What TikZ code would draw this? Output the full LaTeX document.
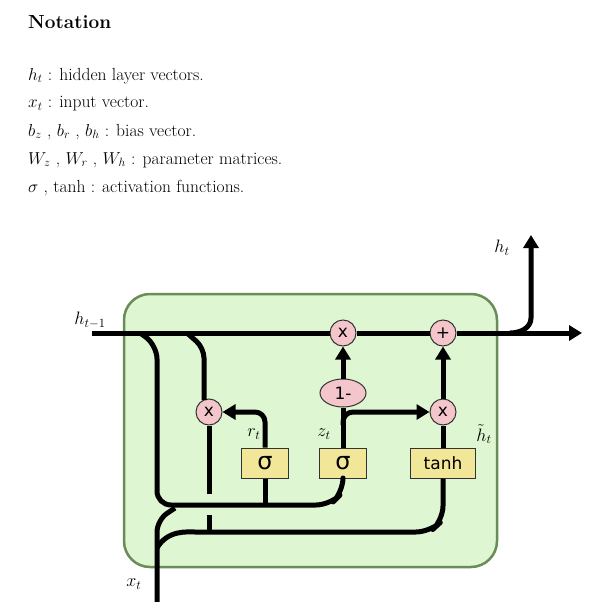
\documentclass[tikz,border=0pt]{standalone}
\usepackage{fontspec}
\newfontfamily\sansf{DejaVu Sans}
\usetikzlibrary{arrows.meta,shapes.geometric}
\definecolor{opfill}{HTML}{F4C6CC}
\definecolor{gfill}{HTML}{F2E698}
\definecolor{boxfill}{HTML}{DFF6D2}
\definecolor{boxdraw}{HTML}{6A8C56}
\begin{document}
\begin{tikzpicture}[x=1pt,y=-1pt,
  w/.style={line width=5pt,line join=round},
  arr/.style={w,-{Triangle[length=13pt,width=15pt]}},
  op/.style={circle,draw=black!80,line width=1pt,fill=opfill,minimum size=26pt,inner sep=0pt,font=\sansf\fontsize{17}{18}\selectfont},
  gate/.style={rectangle,draw=black!80,line width=1pt,fill=gfill,minimum height=30pt,minimum width=47pt,inner sep=1pt,font=\sansf\fontsize{24}{26}\selectfont},
  lab/.style={font=\Large,scale=1.25,inner sep=1pt},
  txt/.style={anchor=west,font=\fontsize{17.5}{20}\selectfont,inner sep=0pt}]
\useasboundingbox (0,0) rectangle (602,602);
\node[anchor=west,font=\bfseries\fontsize{19}{22}\selectfont,inner sep=0pt] (title) at (28,22) {Notation};
\node[txt] (l1) at (28,76) {$h_t$ : hidden layer vectors.};
\node[txt] (l2) at (28,104) {$x_t$ : input vector.};
\node[txt] (l3) at (28,132) {$b_z$ , $b_r$ , $b_h$ : bias vector.};
\node[txt] (l4) at (28,160) {$W_z$ , $W_r$ , $W_h$ : parameter matrices.};
\node[txt] (l5) at (28,188) {$\sigma$ , $\tanh$ : activation functions.};
\draw[rounded corners=26pt,fill=boxfill,draw=boxdraw,line width=2.5pt] (124,294) rectangle (497,567);
% nodes
\coordinate (hin) at (92,333);
\coordinate (hout) at (582,333);
\coordinate (htop) at (531,235);
\coordinate (xin) at (157,602);
\node[op] (m1) at (343,333) {x};
\node[op] (p1) at (443,333) {+};
\node[op] (mr) at (209,412) {x};
\node[op] (mh) at (443,412) {x};
\node[ellipse,draw=black!80,line width=1pt,fill=opfill,minimum width=46pt,minimum height=28pt,inner sep=0pt,font=\sansf\fontsize{17}{18}\selectfont] (om) at (343,393) {1-};
\node[gate] (gr) at (265,463) {σ};
\node[gate] (gz) at (343,463) {σ};
\node[gate,minimum width=65pt,font=\sansf\fontsize{17}{18}\selectfont] (gh) at (443,463) {tanh};
% main line
\draw[w] (hin) -- (m1) -- (p1);
\draw[arr] (p1) -- (hout);
\draw[arr] (510,333) to[out=0,in=-90] (531,318) -- (htop);
% branch 1
\draw[w,rounded corners=14pt] (140,333) -- (157,345) -- (157,505) -- (330,505) -- (343,492) -- (gz.south);
\draw[w] (gr.south) -- (265,505);
% branch 2 through reset
\draw[w,rounded corners=10pt] (187,333) -- (204,348) -- (204,400);
\draw[w] (mr.south) -- (209,494);
\draw[w] (209,515) -- (209,532);
% x input
\draw[w,rounded corners=12pt] (xin) -- (157,520) -- (175,508);
\draw[w,rounded corners=14pt] (157,548) to[out=60,in=180] (209,532) -- (430,532) -- (443,520) -- (gh.south);
% reset gate output
\draw[arr,rounded corners=10pt] (gr.north) -- (265,412) -- (mr);
% update
\draw[w] (gz.north) -- (om);
\draw[arr] (om) -- (m1);
\draw[arr,rounded corners=10pt] (343,425) -- (343,412) -- (mh);
\draw[w] (gh.north) -- (mh);
\draw[arr] (mh) -- (p1);
% labels
\node[lab] (lh1) at (90,320) {$h_{t-1}$};
\node[lab] (lht) at (502,248) {$h_t$};
\node[lab] (lx) at (134,584) {$x_t$};
\node[lab] (lr) at (254,434) {$r_t$};
\node[lab] (lz) at (324,434) {$z_t$};
\node[lab] (lth) at (484,434) {$\tilde{h}_t$};
\end{tikzpicture}
\end{document}
